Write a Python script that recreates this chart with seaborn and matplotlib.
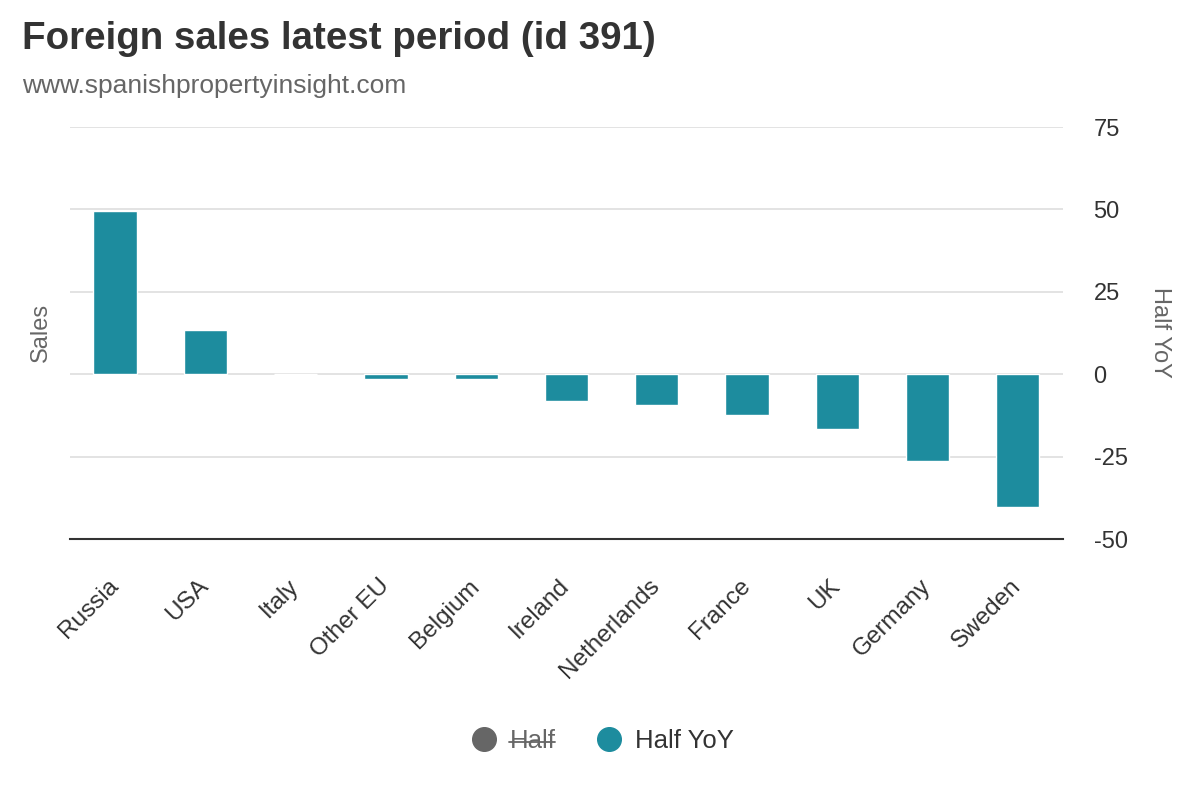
import matplotlib
matplotlib.use('Agg')
import matplotlib.pyplot as plt
import matplotlib.transforms as mtransforms
import seaborn as sns
import pandas as pd
from matplotlib.lines import Line2D

# data
countries = ['Russia', 'USA', 'Italy', 'Other EU', 'Belgium', 'Ireland',
             'Netherlands', 'France', 'UK', 'Germany', 'Sweden']
half_yoy = [49.6, 13.4, 0.0, -1.5, -1.5, -8.1, -9.3, -12.4, -16.6, -26.3, -40.2]
yoy_ticks = [-50, -25, 0, 25, 50, 75]

df = pd.DataFrame({'country': countries, 'yoy': half_yoy})

sns.set_theme(style='white')
plt.rcParams['font.family'] = ['Liberation Sans', 'DejaVu Sans']
plt.rcParams['axes.unicode_minus'] = False

teal = '#1d8c9e'
text_dark = '#333333'
text_grey = '#666666'

fig = plt.figure(figsize=(12, 8), dpi=100)
ax = fig.add_axes([0.0583, 0.32625, 0.8275, 0.515])

sns.barplot(data=df, x='country', y='yoy', color=teal, width=0.48,
            edgecolor='white', linewidth=1.0, saturation=1, ax=ax, zorder=3)

ax.set_ylim(-50, 75)
ax.set_yticks(yoy_ticks)
ax.yaxis.tick_right()
ax.tick_params(axis='y', labelsize=17, colors=text_dark, length=0, pad=22)
ax.tick_params(axis='x', labelsize=17.5, colors=text_dark, length=0, pad=26)
shift = mtransforms.ScaledTranslation(-8 / 100, 0, fig.dpi_scale_trans)
for lab in ax.get_xticklabels():
    lab.set_rotation(45)
    lab.set_ha('right')
    lab.set_va('top')
    lab.set_rotation_mode('anchor')
    lab.set_transform(lab.get_transform() + shift)

ax.grid(axis='y', color='#e0e0e0', linewidth=1.3, zorder=0)
for side in ['top', 'left', 'right']:
    ax.spines[side].set_visible(False)
ax.spines['bottom'].set_color(text_dark)
ax.spines['bottom'].set_linewidth(1.5)

ax.set_xlabel('')
ax.set_ylabel('')
fig.text(0.034, 0.585, 'Sales', fontsize=17, color=text_grey, rotation=90,
         ha='center', va='center')
fig.text(0.9667, 0.585, 'Half YoY', fontsize=17, color=text_grey, rotation=270,
         ha='center', va='center')

fig.text(0.018, 0.951, 'Foreign sales latest period (id 391)', fontsize=27.7,
         fontweight='bold', color=text_dark, ha='left', va='center')
fig.text(0.018, 0.893, 'www.spanishpropertyinsight.com', fontsize=19,
         color=text_grey, ha='left', va='center')

handles = [Line2D([], [], marker='o', linestyle='', markersize=17, color=text_grey),
           Line2D([], [], marker='o', linestyle='', markersize=17, color=teal)]
leg = fig.legend(handles, ['Half', 'Half YoY'], loc='center',
                 bbox_to_anchor=(0.502, 0.074), ncol=2, frameon=False,
                 fontsize=18.5, handlelength=1.0, handletextpad=0.5,
                 columnspacing=1.6)
leg.get_texts()[0].set_color(text_grey)
leg.get_texts()[1].set_color(text_dark)

# strike through the hidden series label
fig.canvas.draw()
bb = leg.get_texts()[0].get_window_extent().transformed(fig.transFigure.inverted())
ymid = bb.y0 + bb.height * 0.45
fig.add_artist(Line2D([bb.x0, bb.x1], [ymid, ymid], color=text_grey,
                      linewidth=1.3, transform=fig.transFigure))

fig.savefig('out.png', dpi=100)
